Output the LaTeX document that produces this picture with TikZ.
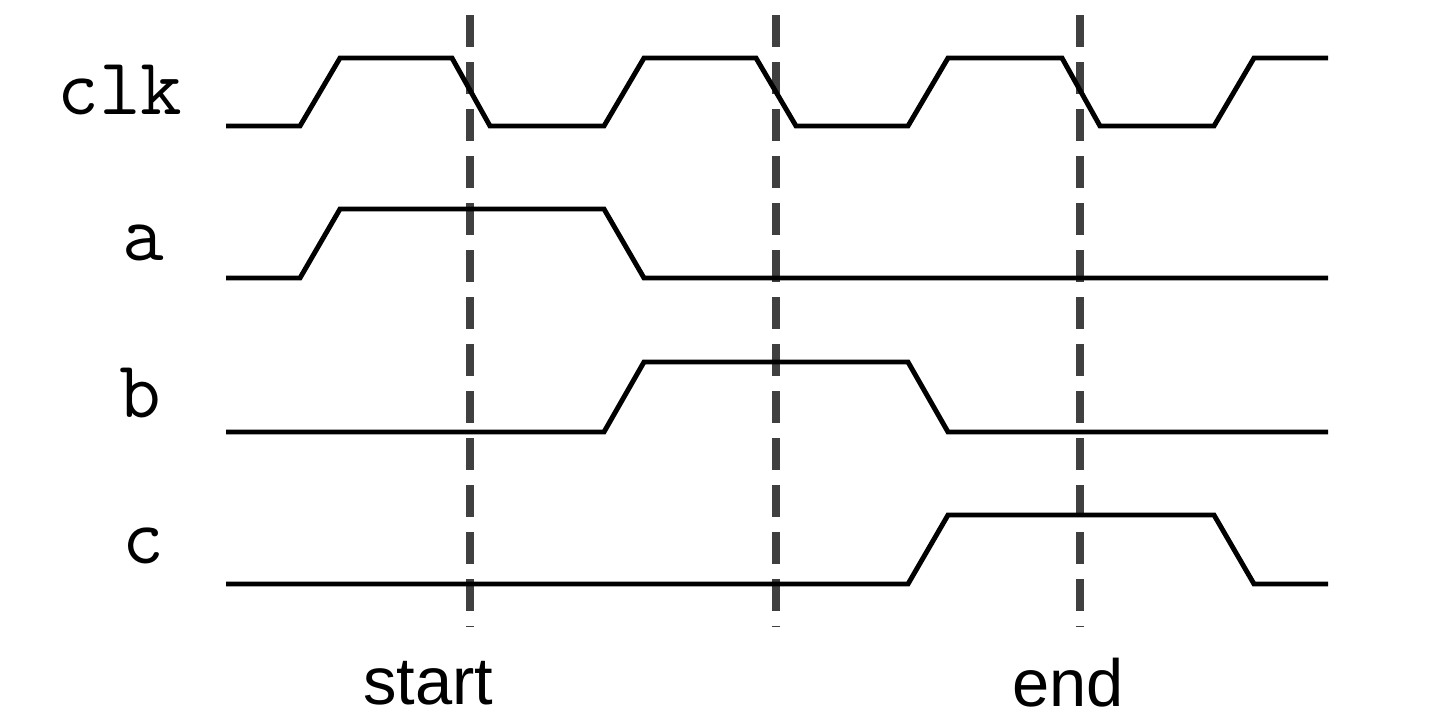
\documentclass[tikz,border=0pt]{standalone}
\usepackage{fontspec}
\setmainfont{Liberation Sans}
\begin{document}
\begin{tikzpicture}[x=0.01cm,y=-0.01cm,
  wave/.style={line width=1.4pt,line join=miter},
  marker/.style={line width=2.4pt,draw=black!75,dash pattern=on 0.32cm off 0.15cm},
  siglabel/.style={font=\ttfamily\fontsize{23}{23}\selectfont,anchor=center},
  timelabel/.style={font=\fontsize{19}{19}\selectfont}]
\useasboundingbox (0,0) rectangle (1430,724);
\foreach \x in {470,776,1080} \draw[marker] (\x,15) -- (\x,627);
\draw[wave] (226,126)--(300,126)--(340,58)--(452,58)--(490,126)--(604,126)--(644,58)--(756,58)--(796,126)--(908,126)--(948,58)--(1062,58)--(1100,126)--(1214,126)--(1254,58)--(1328,58);
\draw[wave] (226,278)--(300,278)--(340,209)--(604,209)--(644,278)--(1328,278);
\draw[wave] (226,432)--(604,432)--(644,362)--(908,362)--(948,432)--(1328,432);
\draw[wave] (226,584)--(908,584)--(948,515)--(1214,515)--(1254,584)--(1328,584);
\node[siglabel] (lclk) at (120,90) {clk};
\node[siglabel] (la) at (143,243) {a};
\node[siglabel] (lb) at (140,393) {b};
\node[siglabel] (lc) at (143,546) {c};
\node[timelabel] (ls) at (428,683) {start};
\node[timelabel] (le) at (1068,683) {end};
\end{tikzpicture}
\end{document}
